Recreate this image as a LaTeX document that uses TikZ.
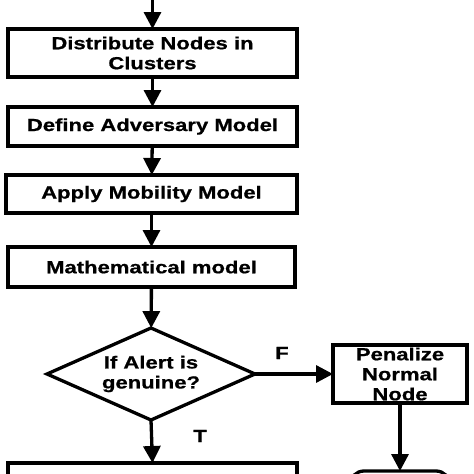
\documentclass[tikz,border=0pt]{standalone}
\usepackage{fontspec}
\setmainfont{Liberation Sans}[FakeStretch=1.26, BoldFeatures={FakeBold=0.8}]
\usetikzlibrary{shapes.geometric,arrows.meta}
\begin{document}
\begin{tikzpicture}[x=1pt,y=1pt,
  every node/.style={font=\fontsize{17.5}{20}\selectfont\bfseries, align=center, inner sep=0pt, outer sep=0pt},
  procbox/.style={draw, line width=3.3pt, rectangle},
  decbox/.style={draw, line width=3.3pt, diamond, aspect=2.26},
  termbox/.style={draw, line width=3.3pt, rectangle, rounded corners=14pt},
  flow/.style={line width=3.3pt, -{Triangle[width=17pt,length=17pt]}},
  lbl/.style={font=\fontsize{17.5}{20}\selectfont\bfseries}]
\useasboundingbox (0,0) rectangle (474,-474);
\coordinate (start) at (152.5,0);
\node[procbox, minimum width=289pt, minimum height=48pt] (dist) at (152.5,-53) {Distribute Nodes in\\Clusters};
\node[procbox, minimum width=289pt, minimum height=39pt] (adv) at (152.5,-126.5) {Define Adversary Model};
\node[procbox, minimum width=291pt, minimum height=38pt] (mob) at (151.5,-194) {Apply Mobility Model};
\node[procbox, minimum width=287pt, minimum height=40pt] (math) at (151.5,-267) {Mathematical model};
\node[decbox, minimum width=208pt, minimum height=92pt] (dec) at (151,-374) {If Alert is\\genuine?};
\node[procbox, minimum width=134pt, minimum height=58pt] (pen) at (400,-374) {Penalize\\Normal\\Node};
\node[procbox, minimum width=289pt, minimum height=40pt] (res) at (152.5,-483) {};
\node[termbox, minimum width=100pt, minimum height=30pt] (term) at (400,-486) {};
\draw[flow] (start) -- (dist);
\draw[flow] (dist) -- (adv);
\draw[flow] (adv) -- (mob);
\draw[flow] (mob) -- (math);
\draw[flow] (math) -- (dec);
\draw[flow] (dec.east) -- (pen.west);
\draw[flow] (dec.south) -- (res.north);
\draw[flow] (pen.south) -- (term.north);
\node[lbl] (flbl) at (282,-353) {F};
\node[lbl] (tlbl) at (200,-436) {T};
\end{tikzpicture}
\end{document}
